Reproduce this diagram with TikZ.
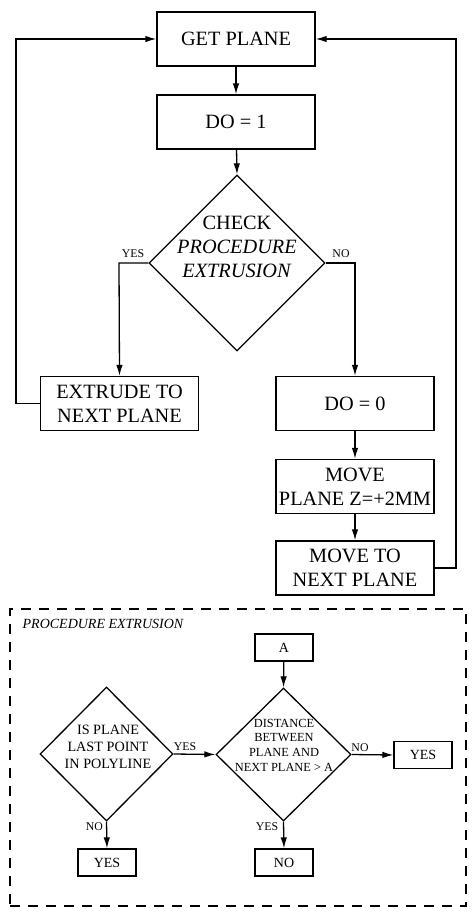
\documentclass[tikz,border=0pt]{standalone}
\usepackage{fontspec}
\setmainfont{Liberation Serif}
\usetikzlibrary{arrows.meta,shapes.geometric}
\begin{document}
\begin{tikzpicture}[x=1pt,y=-1pt,
  line width=1.3pt,
  big/.style={font=\fontsize{20.3}{24}\selectfont},
  mid/.style={font=\fontsize{14.2}{17}\selectfont},
  sml/.style={font=\fontsize{12.4}{14.7}\selectfont},
  lbl/.style={font=\fontsize{11.8}{14}\selectfont, inner sep=0pt},
  mainbox/.style={draw, rectangle, minimum width=158pt, minimum height=54pt, inner sep=0pt, align=center, big},
  smallbox/.style={draw, rectangle, minimum width=58pt, minimum height=27pt, inner sep=0pt, align=center, font=\fontsize{14}{16}\selectfont},
  dia/.style={draw, diamond, inner sep=0pt},
  txt/.style={align=center, inner sep=0pt},
  arr/.style={-{Latex[length=11pt,width=6.5pt]}},
  dashbox/.style={draw, dash pattern=on 10pt off 8pt, line width=1.3pt}
]
\useasboundingbox (0,0) rectangle (474,916);
% top flow
\node[mainbox] (get) at (236,39) {GET PLANE};
\node[mainbox] (do1) at (236,122) {DO = 1};
\node[dia, minimum width=176pt, minimum height=176pt] (chk) at (237,263) {};
\node[txt, big] (chkt) at (237,247) {CHECK\\\textit{PROCEDURE}\\\textit{EXTRUSION}};
\node[mainbox] (extr) at (119.5,403.5) {EXTRUDE TO\\NEXT PLANE};
\node[mainbox] (do0) at (355,403.5) {DO = 0};
\node[mainbox] (mp) at (355,486.5) {MOVE\\PLANE Z=+2MM};
\node[mainbox] (mn) at (355,568) {MOVE TO\\NEXT PLANE};
\coordinate (yl) at (119,263);
\coordinate (nr) at (355,263);
\coordinate (ll) at (16,403.5);
\coordinate (lt) at (16,39);
\coordinate (rl) at (456,568);
\coordinate (rt) at (456,39);
\node[lbl] (yes1) at (133,254) {YES};
\node[lbl] (no1) at (341,254) {NO};
\draw[arr] (get) -- (do1);
\draw[arr] (do1) -- (chk.north);
\draw[arr] (chk.west) -- (yl) -- (extr.north);
\draw[arr] (chk.east) -- (nr) -- (do0.north);
\draw[arr] (extr.west) -- (ll) -- (lt) -- (get.west);
\draw[arr] (do0) -- (mp);
\draw[arr] (mp) -- (mn);
\draw[arr] (mn.east) -- (rl) -- (rt) -- (get.east);
% procedure extrusion
\node[dashbox, minimum width=456pt, minimum height=297pt, inner sep=0pt] (frame) at (238,757.5) {};
\node[txt, anchor=base west, font=\fontsize{14}{16}\selectfont\itshape] (title) at (22,628) {PROCEDURE EXTRUSION};
\node[smallbox] (a) at (284,647.5) {A};
\node[dia, minimum width=133pt, minimum height=134pt] (ld) at (106.5,754) {};
\node[txt, mid] (ldt) at (108,747) {IS PLANE\\LAST POINT\\IN POLYLINE};
\node[dia, minimum width=135pt, minimum height=133pt] (dd) at (283.5,754.5) {};
\node[txt, sml] (ddt) at (284,745) {DISTANCE\\BETWEEN\\PLANE AND\\NEXT PLANE > A};
\node[smallbox] (ly) at (107,862.5) {YES};
\node[smallbox] (no) at (284,862.5) {NO};
\node[smallbox] (ry) at (423,755) {YES};
\draw[arr] (a) -- (dd.north);
\draw[arr] (ld.east) -- (dd.west);
\draw[arr] (dd.east) -- (ry.west);
\draw[arr] (ld.south) -- (ly.north);
\draw[arr] (dd.south) -- (no.north);
\node[lbl] (yes2) at (185,747) {YES};
\node[lbl] (no2) at (360,748) {NO};
\node[lbl] (no3) at (94.5,827) {NO};
\node[lbl] (yes3) at (267,827) {YES};
\end{tikzpicture}
\end{document}
